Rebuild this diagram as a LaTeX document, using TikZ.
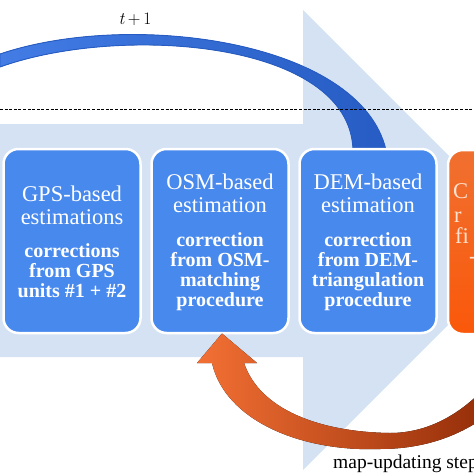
\documentclass[tikz,border=0pt]{standalone}
\usepackage{fontspec}
\setmainfont{Liberation Serif}
\newfontfamily\lmfont{Latin Modern Roman}
\definecolor{lightbg}{RGB}{212,226,244}
\definecolor{boxblue}{RGB}{72,137,238}
\definecolor{arcdark}{RGB}{38,92,196}
\definecolor{arclight}{RGB}{66,124,228}
\definecolor{ortop}{RGB}{240,112,48}
\definecolor{orbot}{RGB}{250,88,10}
\definecolor{orhead}{RGB}{243,112,52}
\definecolor{ormid}{RGB}{240,88,18}
\definecolor{ordark}{RGB}{140,40,5}
\definecolor{ortext}{RGB}{253,226,210}
\tikzset{
  card/.style={draw=white, line width=2.5pt, rounded corners=15pt, inner sep=0pt, outer sep=0pt,
    minimum width=137pt, minimum height=184pt},
  bluecard/.style={card, fill=boxblue},
  orangecard/.style={card, top color=ortop, bottom color=orbot},
  regtext/.style={text=white, inner sep=0pt, anchor=base, font=\fontsize{22.5}{23.5}\selectfont},
  boldtext/.style={text=white, inner sep=0pt, anchor=base, font=\bfseries\fontsize{20}{20}\selectfont},
  ortxt/.style={text=ortext, inner sep=0pt, anchor=base west, font=\fontsize{22.5}{23.5}\selectfont},
  plainlabel/.style={text=black, inner sep=0pt},
  dashline/.style={draw=black, line width=1pt, dash pattern=on 3pt off 1.6pt},
}
\begin{document}
\begin{tikzpicture}[x=1pt,y=-1pt]
\useasboundingbox (0,0) rectangle (474,474);
\clip (0,0) rectangle (474,474);
% big light-blue arrow
\fill[lightbg] (-10,124) -- (303,124) -- (303,10) -- (533,240) -- (303,470) -- (303,357) -- (-10,357) -- cycle;
% blue loop arc (t+1)
\fill[left color=arclight, right color=arcdark, draw=arcdark, line width=0.9pt]
  (0,54) .. controls (130,10) and (360,40) .. (386,150) -- (353,150)
  .. controls (350,40) and (120,24) .. (0,67) -- cycle;
% cards
\node[bluecard] (gps) at (72,241) {};
\node[bluecard] (osm) at (220,241) {};
\node[bluecard] (dem) at (368,241) {};
\node[orangecard] (cor) at (516.5,242) {};
% card texts
\node[regtext] (gps1) at (72,201) {GPS-based};
\node[regtext] (gps2) at (72,224.5) {estimations};
\node[boldtext] (gps3) at (72,257) {corrections};
\node[boldtext] (gps4) at (72,277) {from GPS};
\node[boldtext] (gps5) at (72,297) {units \#1 + \#2};
\node[regtext] (osm1) at (220,189) {OSM-based};
\node[regtext] (osm2) at (220,212.5) {estimation};
\node[boldtext] (osm3) at (220,246) {correction};
\node[boldtext] (osm4) at (220,266) {from OSM-};
\node[boldtext] (osm5) at (220,286) {matching};
\node[boldtext] (osm6) at (220,306) {procedure};
\node[regtext] (dem1) at (368,189) {DEM-based};
\node[regtext] (dem2) at (368,212.5) {estimation};
\node[boldtext] (dem3) at (368,246) {correction};
\node[boldtext] (dem4) at (368,266) {from DEM-};
\node[boldtext] (dem5) at (368,286) {triangulation};
\node[boldtext] (dem6) at (368,306) {procedure};
\node[ortxt] (cor1) at (453,198) {C};
\node[ortxt] (cor2) at (454,222) {r};
\node[ortxt] (cor3) at (455,243) {fi};
\node[ortxt] (cor4) at (469,263) {-};
% orange map-updating arrow
\fill[left color=orhead, middle color=ormid, right color=ordark]
  (222,333.5) -- (257,363) -- (244,363)
  .. controls (260,410) and (320,432) .. (390,433)
  .. controls (430,433) and (468,412) .. (500,370)
  -- (510,395)
  .. controls (475,432) and (430,449) .. (380,449)
  .. controls (300,452) and (225,420) .. (212,363)
  -- (197,363) -- cycle;
% dashed separator
\coordinate (dl) at (0,109);
\coordinate (dr) at (474,109);
\draw[dashline] (dl) -- (dr);
% labels
\node[plainlabel, anchor=base, font=\lmfont\fontsize{17.5}{20}\selectfont] (tlab) at (135,24) {\textit{t}\,+\,1};
\node[plainlabel, anchor=base west, font=\fontsize{19.5}{22}\selectfont] (mlab) at (333,468) {map-updating step};
\end{tikzpicture}
\end{document}
